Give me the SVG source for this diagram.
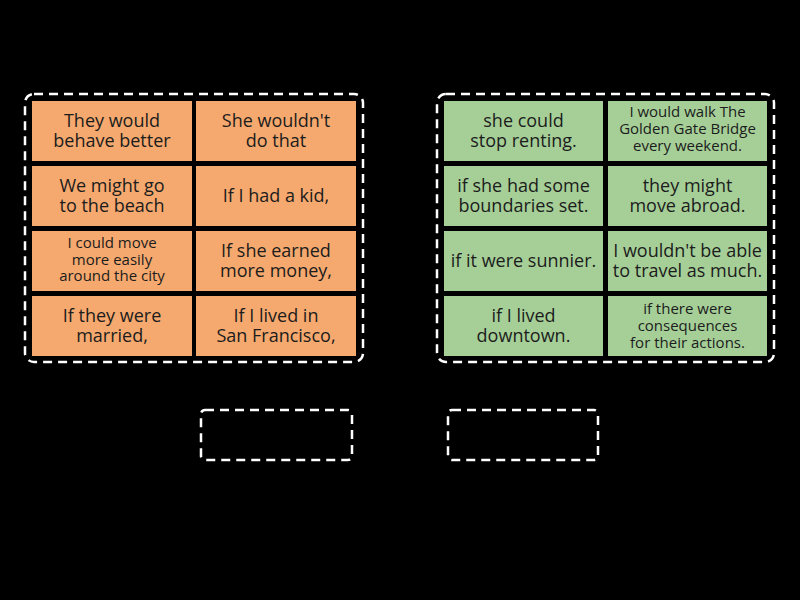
<svg xmlns="http://www.w3.org/2000/svg" width="800" height="600" viewBox="0 0 800 600">
<style>
.bg{fill:#000}
.dash{fill:none;stroke:#fff;stroke-width:2.5;stroke-dasharray:9 6}
.o{fill:#F5A96F}
.g{fill:#A6CF98}
text{font-family:"Open Sans","Liberation Sans",sans-serif;fill:#1c1c1c;text-anchor:middle}
.t{font-size:18px}
.s{font-size:15px}
</style>
<rect class="bg" x="0" y="0" width="800" height="600"/>
<g id="panel-left">
<rect class="dash" x="25" y="94" width="338" height="268" rx="9"/>
</g>
<g id="panel-right">
<rect class="dash" x="437" y="94" width="337" height="268" rx="9"/>
</g>
<g id="drop-left"><rect class="dash" x="201" y="410" width="151" height="50" rx="4"/></g>
<g id="drop-right"><rect class="dash" x="448" y="410" width="150" height="50" rx="4"/></g>

<g id="c1"><rect class="o" x="32" y="101" width="160" height="60"/>
<text class="t" x="112" y="127">They would</text><text class="t" x="112" y="147">behave better</text></g>
<g id="c2"><rect class="o" x="196" y="101" width="160" height="60"/>
<text class="t" x="276" y="127">She wouldn't</text><text class="t" x="276" y="147">do that</text></g>
<g id="c3"><rect class="o" x="32" y="166" width="160" height="60"/>
<text class="t" x="112" y="192">We might go</text><text class="t" x="112" y="212">to the beach</text></g>
<g id="c4"><rect class="o" x="196" y="166" width="160" height="60"/>
<text class="t" x="276" y="202">If I had a kid,</text></g>
<g id="c5"><rect class="o" x="32" y="231" width="160" height="60"/>
<text class="s" x="112" y="248">I could move</text><text class="s" x="112" y="264.5">more easily</text><text class="s" x="112" y="281">around the city</text></g>
<g id="c6"><rect class="o" x="196" y="231" width="160" height="60"/>
<text class="t" x="276" y="257">If she earned</text><text class="t" x="276" y="277">more money,</text></g>
<g id="c7"><rect class="o" x="32" y="296" width="160" height="60"/>
<text class="t" x="112" y="322">If they were</text><text class="t" x="112" y="342">married,</text></g>
<g id="c8"><rect class="o" x="196" y="296" width="160" height="60"/>
<text class="t" x="276" y="322">If I lived in</text><text class="t" x="276" y="342">San Francisco,</text></g>

<g id="g1"><rect class="g" x="444" y="101" width="159" height="60"/>
<text class="t" x="523.5" y="127">she could</text><text class="t" x="523.5" y="147">stop renting.</text></g>
<g id="g2"><rect class="g" x="608" y="101" width="159" height="60"/>
<text class="s" x="687.5" y="117">I would walk The</text><text class="s" x="687.5" y="134">Golden Gate Bridge</text><text class="s" x="687.5" y="151">every weekend.</text></g>
<g id="g3"><rect class="g" x="444" y="166" width="159" height="60"/>
<text class="t" x="523.5" y="192">if she had some</text><text class="t" x="523.5" y="212">boundaries set.</text></g>
<g id="g4"><rect class="g" x="608" y="166" width="159" height="60"/>
<text class="t" x="687.5" y="192">they might</text><text class="t" x="687.5" y="212">move abroad.</text></g>
<g id="g5"><rect class="g" x="444" y="231" width="159" height="60"/>
<text class="t" x="523.5" y="267">if it were sunnier.</text></g>
<g id="g6"><rect class="g" x="608" y="231" width="159" height="60"/>
<text class="t" x="687.5" y="257">I wouldn't be able</text><text class="t" x="687.5" y="277">to travel as much.</text></g>
<g id="g7"><rect class="g" x="444" y="296" width="159" height="60"/>
<text class="t" x="523.5" y="322">if I lived</text><text class="t" x="523.5" y="342">downtown.</text></g>
<g id="g8"><rect class="g" x="608" y="296" width="159" height="60"/>
<text class="s" x="687.5" y="314">if there were</text><text class="s" x="687.5" y="331">consequences</text><text class="s" x="687.5" y="348">for their actions.</text></g>
<g id="connectors"></g>
</svg>
